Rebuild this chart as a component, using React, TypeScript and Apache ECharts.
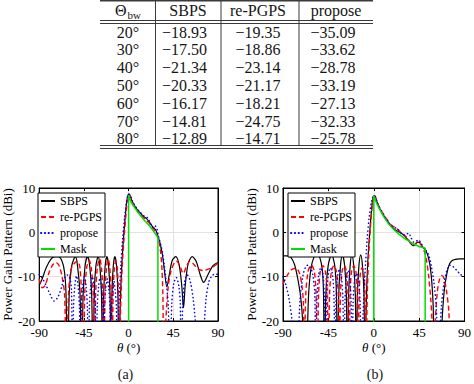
import React, { useEffect, useRef } from "react";
import * as echarts from "echarts";

const FONT = "Liberation Serif";

// ---------- table data ----------
const tableHeaders = ["SBPS", "re-PGPS", "propose"];
const beamwidths = ["20°", "30°", "40°", "50°", "60°", "70°", "80°"];
const sllSBPS = [-18.93, -17.5, -21.34, -20.33, -16.17, -14.81, -12.89];
const sllRePGPS = [-19.35, -18.86, -23.14, -21.17, -18.21, -24.75, -14.71];
const sllPropose = [-35.09, -33.62, -28.78, -33.19, -27.13, -32.33, -25.78];

// ---------- plot tick values ----------
const thetaTicks = [-90, -45, 0, 45, 90];
const gainTicks = [-20, -10, 0, 10];
const seriesNames = ["SBPS", "re-PGPS", "propose", "Mask"];

// ---------- plot (a) ----------
const sbpsA = [
  [-90, -12], [-87, -10.5], [-83, -8], [-78, -6], [-74, -5.5], [-71, -5.5], [-67, -6.5], [-64.5, -9], [-63, -14], [-61.5, -32],
  [-59.8, -14], [-57.2, -7.5], [-53.5, -5.5], [-51.5, -7.5], [-48.9, -14], [-47.2, -32],
  [-45.8, -14], [-43.8, -7.5], [-41.4, -5.5], [-39.2, -7.5], [-37.2, -14], [-35.8, -32],
  [-34.6, -14], [-32.9, -7.5], [-30.7, -5.5], [-29, -7.5], [-27.3, -14], [-26.1, -32],
  [-25.1, -14], [-23.6, -7.5], [-21.9, -5.5], [-20.2, -7.5], [-18.7, -14], [-17.7, -32],
  [-16.8, -14], [-15.4, -7.5], [-13.8, -5.5], [-12.2, -7.5], [-10.8, -14], [-9.9, -32],
  [-8.6, -18], [-7, -8], [-5, -1], [-3, 4.5], [-1.5, 7.5], [0, 8.6], [1, 8.5], [2.5, 7.6], [4, 6.8], [6, 6], [8, 5.3],
  [10, 4.8], [12, 4.3], [14, 3.8], [16, 3.4], [18, 3.1], [20, 2.6], [22, 2], [24, 1.3], [26, 0.9], [28, 0.2], [30, -1.2],
  [32, -2.8], [34, -5], [36, -8.5], [38.5, -12.3], [41, -9.5], [44, -6.3], [47.5, -5.5], [51, -7.5], [53.5, -12], [55.3, -17],
  [57, -12], [60, -7], [64, -5.5], [68, -6.5], [72, -9.5], [75.5, -11.3], [80, -9.5], [85, -7.5], [90, -6.8],
];
const rePgpsA = [
  [-90, -10.5], [-87, -12.5], [-84, -12], [-80, -9], [-76, -7.2], [-73, -6.8], [-70, -7.5], [-67, -10], [-64.5, -14], [-62.5, -32],
  [-60.5, -14], [-57.5, -8], [-51.5, -6.5], [-49, -8], [-47.5, -14], [-45.5, -32],
  [-44.2, -14], [-42.2, -8], [-39.8, -6.3], [-37.6, -8], [-35.6, -14], [-34.3, -32],
  [-33.2, -14], [-31.5, -8], [-29.2, -6], [-27.3, -8], [-25.9, -14], [-24.8, -32],
  [-23.8, -14], [-22.3, -8], [-20.6, -6], [-18.9, -8], [-17.5, -14], [-16.5, -32],
  [-15.6, -14], [-14.3, -8], [-12.8, -6.5], [-11.4, -8], [-10.2, -14], [-9.3, -32],
  [-8, -17], [-6.5, -8], [-4.5, -1], [-2.5, 4.5], [-1, 7.5], [0.5, 8.4], [2, 8], [4, 6.8], [6, 5.9], [8, 5.2], [10, 4.6],
  [12, 4.1], [14, 3.6], [16, 3.2], [18, 2.7], [20, 2.3], [22, 1.7], [24, 1.1], [26, 0.5], [28, -0.3], [30, -1.5], [32, -4],
  [33.5, -8], [34.5, -14], [35.5, -32], [37.5, -20], [40, -12], [43, -8.5], [48, -6.5], [51.5, -7.5], [55, -9.3], [58.5, -7.5],
  [62, -6.5], [66, -7.3], [70, -8.3], [75, -8.6], [80, -8.3], [85, -7.8], [90, -7],
];
const proposeA = [
  [-90, -9.5], [-87, -10.3], [-83, -12], [-79, -14], [-75, -15.5], [-71, -14.5], [-67, -12], [-64, -10], [-61.5, -9.6], [-59, -10.5], [-57.5, -13], [-56.5, -32],
  [-55.5, -17], [-54.1, -12], [-52.5, -9.8], [-50.9, -12], [-49.5, -17], [-48.5, -32],
  [-47.5, -17], [-46.1, -12], [-44.5, -10], [-42.9, -12], [-41.5, -17], [-40.5, -32],
  [-39.5, -17], [-38.1, -12], [-36.5, -10], [-34.9, -12], [-33.5, -17], [-32.5, -32],
  [-31.6, -17], [-30.3, -12.3], [-28.8, -10.3], [-27.3, -12.3], [-25.9, -17], [-25, -32],
  [-24.2, -17], [-22.9, -12.5], [-21.5, -10.5], [-20.1, -12.5], [-18.8, -17], [-18, -32],
  [-17.2, -17], [-16, -13], [-14.8, -11], [-13.6, -13], [-12.3, -17], [-11.5, -32],
  [-10, -18], [-8, -8], [-6, -1.5], [-4, 3.5], [-2, 7], [-0.5, 8.5], [1, 8.6], [2.5, 7.9], [4, 7], [6, 6.2], [8, 5.5], [10, 4.9],
  [12, 4.4], [14, 4], [16, 3.6], [18, 3.4], [19.5, 3.2], [21, 2.5], [23, 1.5], [25, 1], [27, 1.4], [28.5, 0.8], [30, -0.8],
  [32, -2.5], [34, -4.5], [36, -7.5], [38, -11.5], [40, -17], [41.5, -32], [43.5, -16], [45.5, -11.5], [48, -10.2], [50.5, -12],
  [52, -16], [53, -32], [54.5, -16], [56.5, -11], [59, -9.6], [62, -11], [65, -15], [68, -22], [72, -32], [75, -25], [78, -15],
  [81, -11], [84, -9.8], [87, -9.4], [90, -9.5],
];
const maskA = [
  [0, -25], [0, 8.3], [1, 7.6], [3, 6.6], [6, 5.6], [10, 4.3], [14, 3.2], [18, 2.2], [22, 1.2], [26, 0], [29.5, -1.2], [29.5, -25],
];

// ---------- plot (b) ----------
const sbpsB = [
  [-90, -5.3], [-86, -5.3], [-82, -5.7], [-78.5, -7.3], [-75.5, -10.3], [-72.5, -14.5], [-70.5, -20], [-67.5, -35],
  [-64.8, -15], [-62.5, -8.5], [-59.5, -5.7], [-56.5, -5.1], [-53.5, -5.7], [-51, -8.5], [-49.8, -14], [-49, -32],
  [-47.5, -14], [-45.2, -7.5], [-41.8, -5.1], [-38.7, -7.5], [-37, -14], [-35.9, -32],
  [-34.7, -14], [-33, -7.5], [-31, -5.1], [-28.9, -7.5], [-27.2, -14], [-26, -32],
  [-24.9, -14], [-23.4, -7.5], [-21.7, -5.1], [-19.9, -7.5], [-18.3, -14], [-17.2, -32],
  [-16.2, -14], [-14.7, -7.5], [-12.9, -5.1], [-11.2, -7.5], [-9.7, -14], [-8.7, -32],
  [-7.5, -17], [-6, -7], [-4, 0], [-2, 5.5], [-0.5, 8], [0.5, 8.3], [1.5, 8.1], [3, 7], [5, 5.8], [8, 4.5], [11, 3.4],
  [15, 2], [18, 1.2], [21.5, 0.5], [25, 0.1], [28, -0.3], [31, -0.9], [34, -1.7], [37, -2.6], [39, -3], [41, -2.8],
  [43, -2.3], [45, -2.2], [47, -2.8], [49, -3.4], [51, -3.9], [53, -4.8], [54.5, -6], [56, -7.8], [57.5, -11], [59, -17],
  [60.2, -32], [63, -27], [65.5, -32], [68, -19], [70, -13], [72.5, -9.3], [75, -7.2], [77.5, -6.4], [81, -6.1], [85, -6], [90, -6],
];
const rePgpsB = [
  [-90, -11.7], [-86, -9.8], [-82, -8.5], [-77, -8.1], [-73.5, -9.3], [-71, -12.5], [-69.8, -16], [-69, -32],
  [-67.4, -14], [-65, -8.7], [-62, -7.4], [-59, -8.7], [-57.2, -14], [-56, -32],
  [-54.7, -14], [-53, -8.8], [-50.5, -7.5], [-48, -8.8], [-46.2, -14], [-45, -32],
  [-43.8, -14], [-42, -8.8], [-39.5, -7.5], [-37.1, -8.8], [-35.2, -14], [-34, -32],
  [-33, -14], [-31.4, -8.8], [-29.2, -7.5], [-27.1, -8.8], [-25.5, -14], [-24.4, -32],
  [-23.4, -14], [-22, -8.8], [-19.8, -7.5], [-17.7, -8.8], [-16.3, -14], [-15.3, -32],
  [-14.5, -14.5], [-13.3, -9.3], [-11.5, -8], [-9.8, -9.3], [-8.6, -14.5], [-7.8, -32],
  [-6.5, -15], [-5, -5], [-3, 2], [-1.5, 6], [0, 8.1], [1.5, 8], [3, 7], [5, 5.9], [8, 4.7], [11, 3.6], [14, 2.6],
  [17, 1.7], [19.5, 1.3], [21.5, 1.2], [24, 0.6], [27, 0], [30, -0.6], [33, -1.2], [35.5, -2.1], [38, -2.8], [41, -2.7],
  [43.5, -2.1], [45.5, -2.3], [48, -3.3], [50.5, -4.5], [52.5, -6.5], [54.5, -10], [56.5, -15], [57.8, -20], [59, -32],
  [61, -20], [63, -13.5], [65, -10.8], [67.2, -9.7], [69.5, -10.3], [72, -13], [74.5, -18], [76.5, -32], [82, -27], [86, -32], [90, -27],
];
const proposeB = [
  [-90, -10], [-87, -12], [-84, -15], [-81, -20], [-77, -32], [-73, -15], [-70, -9.5], [-67.5, -7.8], [-65.4, -7.4],
  [-63, -7.8], [-60.5, -9.5], [-58.5, -14], [-57.5, -32],
  [-56.3, -15], [-54.6, -9.5], [-52.5, -8], [-50.4, -9.5], [-48.9, -15], [-48, -32],
  [-46.8, -15], [-45.1, -9.5], [-43, -8], [-40.9, -9.5], [-39.4, -15], [-38.5, -32],
  [-37.4, -15], [-35.8, -9.8], [-34, -8.3], [-32.2, -9.8], [-30.6, -15], [-29.5, -32],
  [-28.5, -15.5], [-27.1, -10], [-25.5, -8.6], [-23.9, -10], [-22.5, -15.5], [-21.5, -32],
  [-20.5, -16], [-19, -10.8], [-17, -9.3], [-15, -10.8], [-13.5, -16], [-12.5, -32],
  [-10.5, -18], [-8.5, -8.5], [-6.5, -1.5], [-4.5, 3.5], [-2.5, 6.6], [-0.8, 8], [0.5, 8.3], [1.5, 8.1], [3, 7.1], [5, 5.9],
  [8, 4.6], [11, 3.5], [15, 2.2], [18, 1.4], [20, 1.1], [23, 0.9], [25.5, 0.3], [28, -0.4], [31, -0.6], [34.5, -0.2],
  [37, -1.2], [39.5, -2.2], [42, -2], [44.5, -1.7], [47, -2.5], [49, -3.3], [51, -4], [53, -4.4], [55, -5.5], [57, -7.5],
  [59.5, -11], [62, -17], [64, -32], [67, -17], [70, -11], [73, -8.3], [75.5, -7.4], [78, -7.6], [82, -8.5], [86, -9.5], [90, -10],
];
const maskB = [
  [0, -25], [0, 8.3], [2, 7], [5, 5.5], [10, 3.5], [15, 1.8], [20, 0.6], [25, -0.4], [30, -1.3], [35, -2], [40, -2.7],
  [45, -3.2], [51, -3.6], [51, -25],
];

const fmt = (v: number) => v.toFixed(2).replace("-", "\u2212");

function buildTable() {
  const els: any[] = [];
  const stroke = "#3a3a3a";
  const hLine = (y: number, w = 1) => ({
    type: "line",
    shape: { x1: 100, y1: y, x2: 373, y2: y },
    style: { stroke, lineWidth: w },
  });
  els.push(hLine(0.8, 1.6), hLine(20.5), hLine(23.5), hLine(145.5), hLine(148.5));
  [155.5, 221, 299].forEach((x) =>
    els.push({ type: "line", shape: { x1: x, y1: 0, x2: x, y2: 145.5 }, style: { stroke, lineWidth: 1 } })
  );
  const txt = (text: string, x: number, y: number, size = 16, align = "center") => ({
    type: "text",
    style: { text, x, y, fill: "#151515", fontSize: size, fontFamily: FONT, align, verticalAlign: "middle" },
  });
  els.push(txt("Θ", 115, 10.5, 16, "left"));
  els.push(txt("bw", 127.5, 14.5, 11, "left"));
  const headerX = [188, 258, 336];
  tableHeaders.forEach((h, i) => els.push(txt(h, headerX[i], 10.5)));
  const colX = [128, 184.5, 258, 333];
  beamwidths.forEach((b, r) => {
    const y = 32 + r * 17.8;
    els.push(txt(b, colX[0], y));
    els.push(txt(fmt(sllSBPS[r]), colX[1], y));
    els.push(txt(fmt(sllRePGPS[r]), colX[2], y));
    els.push(txt(fmt(sllPropose[r]), colX[3], y));
  });
  els.push(txt("(a)", 125.5, 374, 14));
  els.push(txt("(b)", 375, 374, 14));
  return els;
}

const lineStyles: Record<string, any> = {
  SBPS: { color: "#000000", width: 1.2, type: "solid" },
  "re-PGPS": { color: "#ff0000", width: 1.4, type: [5, 3] },
  propose: { color: "#0000ff", width: 1.5, type: [0.3, 3.5], cap: "round" },
  Mask: { color: "#00dd00", width: 1.5, type: "solid" },
};

export default function App() {
  const ref = useRef<HTMLDivElement>(null);
  useEffect(() => {
    if (!ref.current) return;
    const chart = echarts.init(ref.current, undefined, { renderer: "svg" });
    const grids = [
      { left: 33, top: 188, width: 185, height: 133 },
      { left: 283, top: 188, width: 183, height: 133 },
    ];
    const axisText = { fontFamily: FONT, fontSize: 13, color: "#000" };
    const mainX = grids.map((_, i) => ({
      type: "value",
      gridIndex: i,
      min: thetaTicks[0],
      max: thetaTicks[thetaTicks.length - 1],
      interval: thetaTicks[1] - thetaTicks[0],
      position: "bottom",
      axisLine: { show: true, onZero: false, lineStyle: { color: "#000", width: 1 } },
      axisTick: { show: true, inside: true, length: 3, lineStyle: { color: "#000" } },
      axisLabel: { ...axisText, margin: 5 },
      splitLine: { show: true, lineStyle: { color: "#e2e2e2", width: 1 } },
      name: "{i|θ} (°)",
      nameLocation: "middle",
      nameGap: 20,
      nameTextStyle: { ...axisText, rich: { i: { ...axisText, fontStyle: "italic" } } },
    }));
    const topX = grids.map((_, i) => ({
      type: "value",
      gridIndex: i,
      min: thetaTicks[0],
      max: thetaTicks[thetaTicks.length - 1],
      interval: thetaTicks[1] - thetaTicks[0],
      position: "top",
      axisLine: { show: true, onZero: false, lineStyle: { color: "#000", width: 1 } },
      axisTick: { show: true, inside: true, length: 3, lineStyle: { color: "#000" } },
      axisLabel: { show: false },
      splitLine: { show: false },
    }));
    const mainY = grids.map((_, i) => ({
      type: "value",
      gridIndex: i,
      min: gainTicks[0],
      max: gainTicks[gainTicks.length - 1],
      interval: gainTicks[1] - gainTicks[0],
      position: "left",
      axisLine: { show: true, onZero: false, lineStyle: { color: "#000", width: 1 } },
      axisTick: { show: true, inside: true, length: 3, lineStyle: { color: "#000" } },
      axisLabel: { ...axisText, margin: 4 },
      splitLine: { show: true, lineStyle: { color: "#e2e2e2", width: 1 } },
      name: "Power Gain Pattern (dBi)",
      nameLocation: "middle",
      nameGap: 20,
      nameTextStyle: axisText,
    }));
    const rightY = grids.map((_, i) => ({
      type: "value",
      gridIndex: i,
      min: gainTicks[0],
      max: gainTicks[gainTicks.length - 1],
      interval: gainTicks[1] - gainTicks[0],
      position: "right",
      axisLine: { show: true, onZero: false, lineStyle: { color: "#000", width: 1 } },
      axisTick: { show: true, inside: true, length: 3, lineStyle: { color: "#000" } },
      axisLabel: { show: false },
      splitLine: { show: false },
    }));

    const plotData = [
      [sbpsA, rePgpsA, proposeA, maskA],
      [sbpsB, rePgpsB, proposeB, maskB],
    ];
    const series: any[] = [];
    plotData.forEach((set, gi) => {
      set.forEach((data, si) => {
        const name = seriesNames[si];
        series.push({
          type: "line",
          name,
          xAxisIndex: gi,
          yAxisIndex: gi,
          data,
          symbol: "none",
          showSymbol: false,
          smooth: name === "Mask" ? false : 0.3,
          clip: true,
          lineStyle: lineStyles[name],
          itemStyle: { color: lineStyles[name].color },
          z: 2 + si,
          silent: true,
        });
      });
    });

    const legendBase = {
      orient: "vertical",
      top: 193,
      data: seriesNames,
      backgroundColor: "#fff",
      borderColor: "#000",
      borderWidth: 1,
      padding: [2, 3, 2, 2],
      itemWidth: 14,
      itemHeight: 10,
      itemGap: 4,
      selectedMode: false,
      itemStyle: { opacity: 0 },
      textStyle: { fontFamily: FONT, fontSize: 12, color: "#000" },
    };

    chart.setOption({
      animation: false,
      backgroundColor: "#fff",
      textStyle: { fontFamily: FONT },
      grid: grids.map((g) => ({ ...g, show: true, borderColor: "#000", borderWidth: 1, backgroundColor: "#fff" })),
      xAxis: [...mainX, ...topX],
      yAxis: [...mainY, ...rightY],
      legend: [
        { ...legendBase, left: 38 },
        { ...legendBase, left: 288 },
      ],
      series,
      graphic: buildTable(),
    });
    return () => chart.dispose();
  }, []);
  return (
    <div
      ref={ref}
      style={{ position: "absolute", left: 0, top: 0, width: 474, height: 384, background: "#fff" }}
    />
  );
}
